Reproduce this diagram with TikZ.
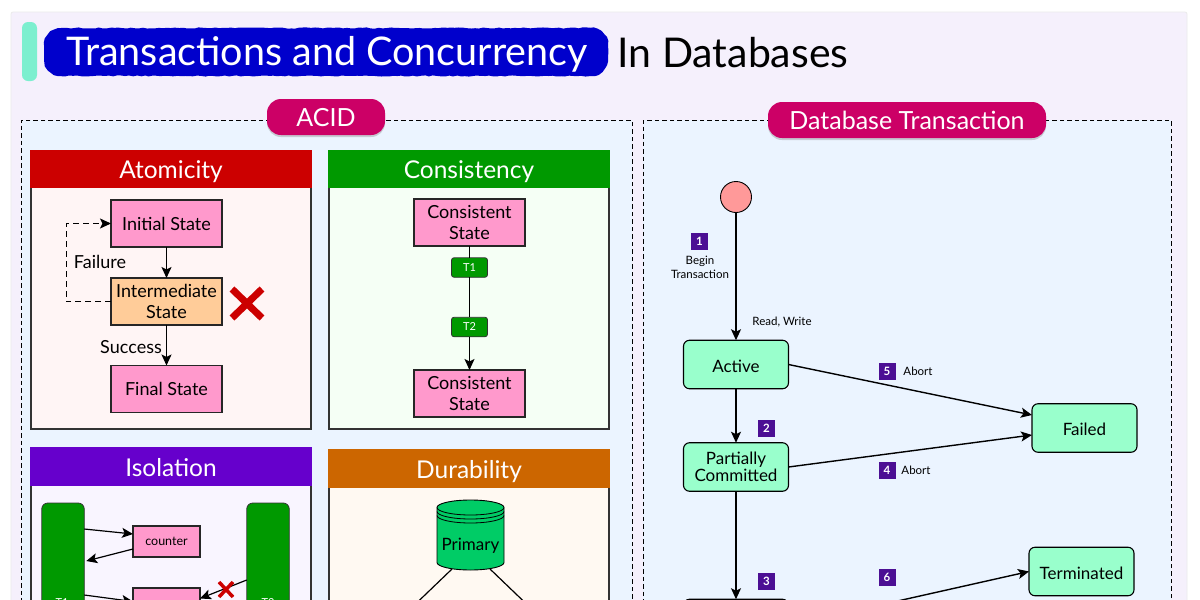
\documentclass[tikz,border=0pt]{standalone}
\usepackage{fontspec}
\setmainfont{Lato}
\usetikzlibrary{arrows.meta,calc,shadows,decorations.pathmorphing}
\definecolor{panelbg}{HTML}{F5F0FC}
\definecolor{groupbg}{HTML}{EBF4FF}
\definecolor{accent}{HTML}{7CEFCF}
\definecolor{titleblue}{HTML}{0000CC}
\definecolor{magpill}{HTML}{CC0066}
\definecolor{cred}{HTML}{CC0000}
\definecolor{cgreen}{HTML}{009900}
\definecolor{cpurple}{HTML}{6600CC}
\definecolor{corange}{HTML}{CC6600}
\definecolor{pinkfill}{HTML}{FF99CC}
\definecolor{peach}{HTML}{FFCC99}
\definecolor{mint}{HTML}{99FFCC}
\definecolor{dbgreen}{HTML}{00CC66}
\definecolor{badgec}{HTML}{4C0F94}
\definecolor{startc}{HTML}{FF9999}
\definecolor{atombg}{HTML}{FFF5F5}
\definecolor{consbg}{HTML}{F5FFF5}
\definecolor{isobg}{HTML}{F9F5FF}
\definecolor{durbg}{HTML}{FFF9F2}
\newcommand{\fs}[1]{\fontsize{#1pt}{\dimexpr #1pt*6/5\relax}\selectfont}
\tikzset{
  x=1pt,y=-1pt,
  every node/.style={inner sep=0pt,outer sep=0pt,align=center},
  conn/.style={draw=black,line width=1.4pt,-{Stealth[length=11pt,width=10pt,inset=2.5pt]}},
  plainconn/.style={draw=black,line width=1.4pt},
  group/.style={draw=black,dash pattern=on 4.5pt off 3pt,line width=1pt,fill=groupbg},
  pill/.style={fill=magpill,rounded corners=14pt,text=white,text height=19pt,text depth=0pt,font=\fs{25},drop shadow={shadow xshift=0pt,shadow yshift=-2pt,opacity=.35}},
  cardbody/.style={draw=black!80,line width=1.2pt,minimum width=280},
  cardhead/.style={text=white,minimum width=281.2,minimum height=38.5,text height=19pt,text depth=0pt,font=\fs{24.5}},
  pinkbox/.style={draw=black!85,line width=1.2pt,fill=pinkfill,minimum width=111,minimum height=47,font=\fs{18}},
  peachbox/.style={pinkbox,fill=peach},
  tagbox/.style={draw=black!80,line width=0.8pt,fill=cgreen,text=white,rounded corners=2.5pt,minimum width=36,minimum height=19.5,font=\fs{11}},
  trbar/.style={draw=black!80,line width=0.8pt,fill=cgreen,text=white,rounded corners=6pt,minimum width=42.5,minimum height=190},
  statebox/.style={draw=black,line width=1.1pt,fill=mint,rounded corners=6pt,minimum width=105,minimum height=48.5,font=\fs{17}},
  oneline/.style={text height=15pt,text depth=0pt},
  badge/.style={fill=badgec,text=white,minimum width=17,minimum height=17,font=\bfseries\fs{11.5}},
  note/.style={font=\fs{11.5}},
  lbl/.style={font=\fs{18}},
  crossmark/.style={draw=cred,line cap=butt},
  thinconn/.style={conn,line width=1.2pt}
}
\begin{document}
\begin{tikzpicture}
\useasboundingbox (0,0) rectangle (1200,600);
\clip (0,0) rectangle (1200,600);
\fill[white] (0,0) rectangle (1200,600);
\draw[draw=black!8,fill=panelbg,line width=0.8pt,rounded corners=2pt] (11,12) rectangle (1187,640);
\fill[accent,rounded corners=6pt] (22,22) rectangle (37,81);
\fill[titleblue,decorate,decoration={random steps,segment length=4pt,amplitude=0.6pt}] [rounded corners=17pt] (44,28) rectangle (608,76) [sharp corners];
\node[text=white,font=\fs{39.5}] (title) at (327,54) {Transactions and Concurrency};
\node[text=black,font=\fs{41}] (subtitle) at (733,53) {In Databases};

\node[group,minimum width=611,minimum height=520] (acid) at (326.5,380) {};
\node[group,minimum width=528,minimum height=520] (dbtx) at (907,380) {};
\node[pill,minimum width=118,minimum height=36] (acidpill) at (326,117) {ACID};
\node[pill,minimum width=278,minimum height=36] (dbpill) at (907,120) {Database Transaction};

% Atomicity
\node[cardbody,fill=atombg,minimum height=270] (atombody) at (171,294) {};
\node[cardhead,fill=cred] (atomhead) at (171,169.2) {Atomicity};
\node[pinkbox] (init) at (166.5,223.5) {Initial State};
\node[peachbox] (inter) at (166.5,301.5) {Intermediate\\State};
\node[pinkbox] (final) at (166.5,389) {Final State};
\draw[conn] (init) -- (inter);
\draw[conn] (inter) -- (final);
\draw[conn,line width=1pt,dash pattern=on 6pt off 4pt] (inter.west) -- ++(-45,0) |- (init.west);
\node[lbl] (failure) at (100,262) {Failure};
\node[lbl] (success) at (131,347) {Success};
\draw[crossmark,line width=7pt] (232,289) -- (262,318) (262,289) -- (232,318);

% Consistency
\node[cardbody,fill=consbg,minimum height=270] (consbody) at (469,294) {};
\node[cardhead,fill=cgreen] (conshead) at (469,169.2) {Consistency};
\node[pinkbox] (cs1) at (469.5,222.5) {Consistent\\State};
\node[pinkbox] (cs2) at (469.5,393.5) {Consistent\\State};
\node[tagbox] (t1tag) at (469.5,267.5) {T1};
\node[tagbox] (t2tag) at (469.5,327) {T2};
\draw[plainconn,line width=1.2pt] (cs1) -- (t1tag);
\draw[plainconn,line width=1.2pt] (t1tag) -- (t2tag);
\draw[thinconn] (t2tag) -- (cs2);

% Isolation
\node[cardbody,fill=isobg,minimum height=180] (isobody) at (171,550) {};
\node[cardhead,fill=cpurple] (isohead) at (171,466.5) {Isolation};
\node[trbar] (tr1) at (63,598) {};
\node[trbar] (tr2) at (268,598) {};
\node[text=white,font=\fs{11}] (tr1l) at (62,603) {T1};
\node[text=white,font=\fs{11}] (tr2l) at (268,603) {T2};
\node[pinkbox,minimum width=67,minimum height=31,font=\fs{12.5}] (counter) at (166.5,541.5) {counter};
\node[pinkbox,minimum width=67,minimum height=31] (counter2) at (166.5,603.5) {};
\coordinate (a1) at ($(tr1.east)+(0,-69)$);
\coordinate (a2) at ($(counter.west)+(0,-7.5)$);
\coordinate (a3) at ($(counter.west)+(0,7.5)$);
\coordinate (a4) at ($(tr1.east)+(2,-37)$);
\coordinate (a5) at ($(tr1.east)+(0,-3)$);
\coordinate (a6) at ($(counter2.west)+(0,-2)$);
\coordinate (a7) at ($(tr2.west)+(0,-18)$);
\coordinate (a8) at ($(counter2.east)+(0,-5)$);
\draw[thinconn] (a1) -- (a2);
\draw[thinconn] (a3) -- (a4);
\draw[thinconn] (a5) -- (a6);
\draw[thinconn] (a7) -- (a8);
\draw[crossmark,line width=3.5pt] (219,582) -- (233,597) (233,582) -- (219,597);

% Durability
\node[cardbody,fill=durbg,minimum height=180] (durbody) at (469,552) {};
\node[cardhead,fill=corange] (durhead) at (469,468.5) {Durability};
\node[minimum width=67,minimum height=70] (primary) at (470.5,535) {};
\filldraw[draw=black,fill=dbgreen,line width=0.9pt] ($(primary.center)+(-33.5,-27.5)$) arc[start angle=180,end angle=0,x radius=33.5pt,y radius=7.5pt] -- ++(0,55) arc[start angle=360,end angle=180,x radius=33.5pt,y radius=7.5pt] -- cycle;
\foreach \dy in {-27.5,-23.5,-19.5}
  \draw[line width=0.8pt] ($(primary.center)+(-33.5,\dy)$) arc[start angle=180,end angle=360,x radius=33.5pt,y radius=7.5pt];
\node[font=\fs{17}] (primarylabel) at (470.5,546) {Primary};
\coordinate (d1) at ($(primary.south)+(-18.5,-1)$);
\coordinate (d2) at ($(primary.south)+(19.5,-1)$);
\coordinate (replicaL) at (409.3,610);
\coordinate (replicaR) at (532.7,610);
\draw[plainconn,line width=1.2pt] (d1) -- (replicaL);
\draw[plainconn,line width=1.2pt] (d2) -- (replicaR);

% Transaction states
\node[circle,draw=black,line width=0.9pt,fill=startc,minimum size=31] (start) at (736,197) {};
\node[statebox,oneline] (active) at (736,364.5) {Active};
\node[statebox] (partial) at (736,467) {Partially\\[-3pt]Committed};
\node[statebox,oneline] (failed) at (1084.5,428) {Failed};
\node[statebox,oneline] (term) at (1081.5,571.5) {Terminated};
\node[statebox] (committed) at (736,623.5) {};
\draw[conn] (start) -- (active);
\draw[conn] (active) -- (partial);
\draw[conn] (partial) -- (committed);
\draw[conn] (active.east) -- ($(failed.west)+(0,-13)$);
\draw[conn] (partial.east) -- ($(failed.west)+(0,7)$);
\draw[conn] ($(committed.east)+(0,2)$) -- (term.west);
\node[badge] (b1) at (699.5,241) {1};
\node[badge] (b2) at (766.5,428.5) {2};
\node[badge] (b3) at (766.5,581) {3};
\node[badge] (b4) at (887,470) {4};
\node[badge] (b5) at (887,371.5) {5};
\node[badge] (b6) at (887,577) {6};
\node[note] (begin) at (700,267) {Begin\\Transaction};
\node[note] (rw) at (782,322.5) {Read, Write};
\node[note] (ab5) at (918,371) {Abort};
\node[note] (ab4) at (916,470) {Abort};
\end{tikzpicture}
\end{document}
